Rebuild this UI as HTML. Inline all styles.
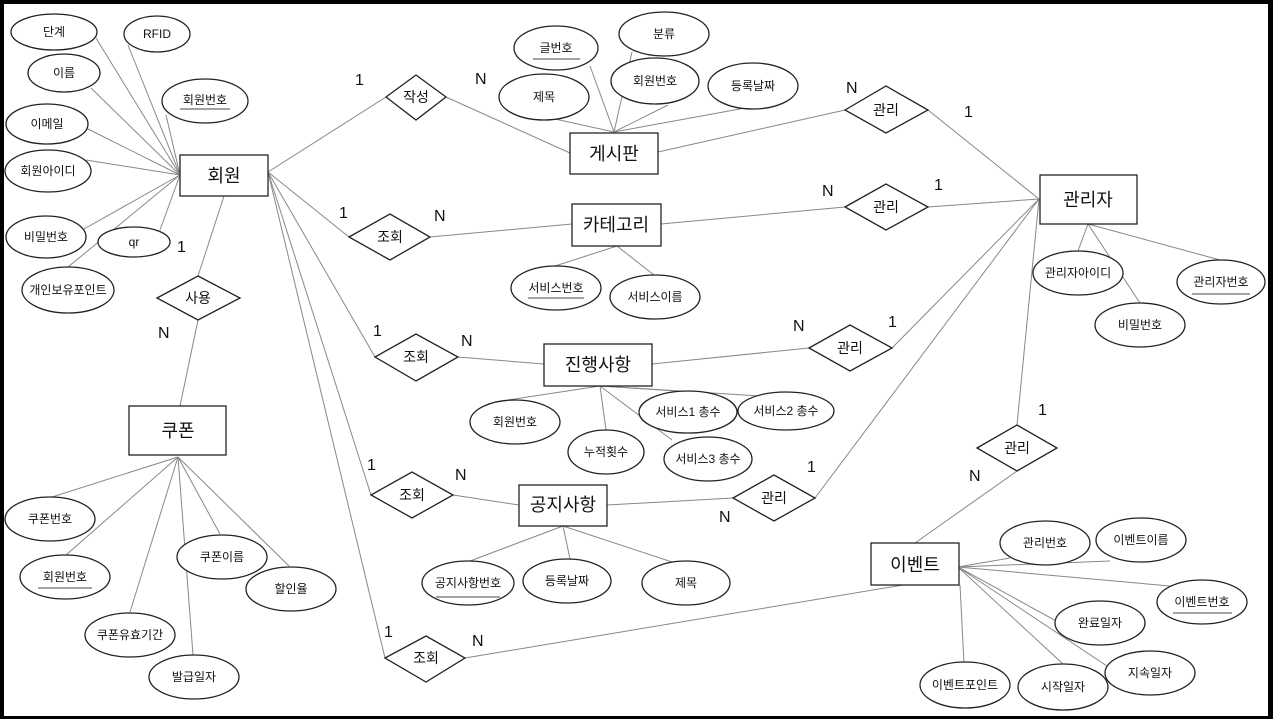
<!DOCTYPE html>
<html><head><meta charset="utf-8"><style>
html,body{margin:0;padding:0;background:#000;}
svg{display:block;}
text{font-family:"Liberation Sans","Noto Sans CJK KR","NanumGothic",sans-serif;fill:#111;}
</style></head><body>
<svg width="1273" height="719" viewBox="0 0 1273 719" xmlns="http://www.w3.org/2000/svg">
<rect x="0" y="0" width="1273" height="719" fill="#000"/>
<rect x="4" y="4" width="1264" height="712" fill="#fff"/>
<g stroke="#888" stroke-width="1" fill="none">
<!-- 회원 attrs -->
<line x1="180" y1="175" x2="96" y2="38"/>
<line x1="180" y1="175" x2="128" y2="45"/>
<line x1="180" y1="175" x2="91" y2="88"/>
<line x1="180" y1="175" x2="166" y2="115"/>
<line x1="180" y1="175" x2="86" y2="128"/>
<line x1="180" y1="175" x2="86" y2="160"/>
<line x1="180" y1="175" x2="84" y2="229"/>
<line x1="180" y1="175" x2="160" y2="230"/>
<line x1="180" y1="175" x2="68" y2="267"/>
<!-- 게시판 attrs -->
<line x1="614" y1="132" x2="590" y2="66"/>
<line x1="614" y1="132" x2="632" y2="52"/>
<line x1="614" y1="132" x2="555" y2="119"/>
<line x1="614" y1="132" x2="668" y2="105"/>
<line x1="614" y1="132" x2="745" y2="108"/>
<!-- 카테고리 attrs -->
<line x1="617" y1="246" x2="552" y2="267"/>
<line x1="617" y1="246" x2="654" y2="275"/>
<!-- 진행사항 attrs -->
<line x1="600" y1="386" x2="508" y2="400"/>
<line x1="600" y1="386" x2="606" y2="430"/>
<line x1="600" y1="386" x2="676" y2="391"/>
<line x1="600" y1="386" x2="760" y2="396"/>
<line x1="600" y1="386" x2="672" y2="440"/>
<!-- 공지사항 attrs -->
<line x1="563" y1="526" x2="470" y2="561"/>
<line x1="563" y1="526" x2="570" y2="559"/>
<line x1="563" y1="526" x2="672" y2="562"/>
<!-- 관리자 attrs -->
<line x1="1088" y1="224" x2="1078" y2="251"/>
<line x1="1088" y1="224" x2="1140" y2="303"/>
<line x1="1088" y1="224" x2="1220" y2="260"/>
<!-- 이벤트 attrs -->
<line x1="958" y1="567" x2="1010" y2="558"/>
<line x1="958" y1="567" x2="1110" y2="561"/>
<line x1="958" y1="567" x2="1170" y2="586"/>
<line x1="958" y1="567" x2="1058" y2="622"/>
<line x1="958" y1="567" x2="1110" y2="668"/>
<line x1="958" y1="567" x2="1063" y2="664"/>
<line x1="960" y1="585" x2="964" y2="664"/>
<!-- 쿠폰 attrs -->
<line x1="178" y1="457" x2="52" y2="497"/>
<line x1="178" y1="457" x2="66" y2="555"/>
<line x1="178" y1="457" x2="130" y2="612"/>
<line x1="178" y1="457" x2="193" y2="655"/>
<line x1="178" y1="457" x2="220" y2="534"/>
<line x1="178" y1="457" x2="289" y2="566"/>
<!-- relationships -->
<line x1="268" y1="172" x2="386" y2="97"/>
<line x1="446" y1="97" x2="570" y2="153"/>
<line x1="658" y1="152" x2="845" y2="110"/>
<line x1="928" y1="110" x2="1039" y2="199"/>
<line x1="268" y1="172" x2="349" y2="237"/>
<line x1="430" y1="237" x2="572" y2="224"/>
<line x1="661" y1="224" x2="845" y2="207"/>
<line x1="928" y1="207" x2="1039" y2="199"/>
<line x1="268" y1="172" x2="375" y2="357"/>
<line x1="458" y1="357" x2="544" y2="364"/>
<line x1="652" y1="364" x2="809" y2="348"/>
<line x1="892" y1="348" x2="1039" y2="199"/>
<line x1="268" y1="172" x2="371" y2="495"/>
<line x1="453" y1="495" x2="519" y2="505"/>
<line x1="607" y1="505" x2="733" y2="498"/>
<line x1="815" y1="498" x2="1039" y2="199"/>
<line x1="268" y1="172" x2="385" y2="658"/>
<line x1="465" y1="658" x2="903" y2="585"/>
<line x1="1039" y1="199" x2="1017" y2="425"/>
<line x1="1017" y1="471" x2="915" y2="543"/>
<line x1="224" y1="196" x2="198" y2="276"/>
<line x1="198" y1="320" x2="180" y2="406"/>
</g>
<g stroke="#222" stroke-width="1.3" fill="#fff">
<!-- entities -->
<rect x="180" y="155" width="88" height="41"/>
<rect x="570" y="133" width="88" height="41"/>
<rect x="572" y="204" width="89" height="42"/>
<rect x="544" y="344" width="108" height="42"/>
<rect x="519" y="485" width="88" height="41"/>
<rect x="1040" y="175" width="97" height="49"/>
<rect x="129" y="406" width="97" height="49"/>
<rect x="871" y="543" width="88" height="42"/>
<!-- diamonds -->
<polygon points="386,97 416,75 446,97 416,120"/>
<polygon points="845,110 886,86 928,110 886,133"/>
<polygon points="845,207 886,184 928,207 886,230"/>
<polygon points="349,237 390,214 430,237 390,260"/>
<polygon points="375,357 416,334 458,357 416,381"/>
<polygon points="809,348 850,325 892,348 850,371"/>
<polygon points="371,495 412,472 453,495 412,518"/>
<polygon points="733,498 774,475 815,498 774,521"/>
<polygon points="977,448 1017,425 1057,448 1017,471"/>
<polygon points="385,658 426,636 465,658 426,682"/>
<polygon points="157,298 198,276 240,298 198,320"/>
<!-- ellipses -->
<ellipse cx="54" cy="32" rx="43" ry="18"/>
<ellipse cx="157" cy="34" rx="33" ry="18"/>
<ellipse cx="64" cy="73" rx="36" ry="19"/>
<ellipse cx="205" cy="101" rx="43" ry="22"/>
<ellipse cx="47" cy="124" rx="41" ry="20"/>
<ellipse cx="48" cy="171" rx="43" ry="21"/>
<ellipse cx="46" cy="237" rx="40" ry="21"/>
<ellipse cx="134" cy="242" rx="36" ry="15"/>
<ellipse cx="68" cy="290" rx="46" ry="23"/>
<ellipse cx="556" cy="48" rx="42" ry="22"/>
<ellipse cx="664" cy="34" rx="45" ry="22"/>
<ellipse cx="544" cy="97" rx="45" ry="23"/>
<ellipse cx="655" cy="81" rx="44" ry="23"/>
<ellipse cx="753" cy="86" rx="45" ry="23"/>
<ellipse cx="556" cy="288" rx="45" ry="22"/>
<ellipse cx="655" cy="297" rx="45" ry="22"/>
<ellipse cx="515" cy="422" rx="45" ry="22"/>
<ellipse cx="606" cy="452" rx="38" ry="22"/>
<ellipse cx="688" cy="412" rx="49" ry="21"/>
<ellipse cx="786" cy="411" rx="48" ry="19"/>
<ellipse cx="708" cy="459" rx="44" ry="22"/>
<ellipse cx="468" cy="583" rx="46" ry="22"/>
<ellipse cx="567" cy="581" rx="44" ry="22"/>
<ellipse cx="686" cy="583" rx="44" ry="22"/>
<ellipse cx="1078" cy="273" rx="45" ry="22"/>
<ellipse cx="1221" cy="282" rx="44" ry="22"/>
<ellipse cx="1140" cy="325" rx="45" ry="22"/>
<ellipse cx="1045" cy="543" rx="45" ry="22"/>
<ellipse cx="1141" cy="540" rx="45" ry="22"/>
<ellipse cx="1202" cy="602" rx="45" ry="22"/>
<ellipse cx="1100" cy="623" rx="45" ry="22"/>
<ellipse cx="1150" cy="673" rx="45" ry="22"/>
<ellipse cx="1063" cy="687" rx="45" ry="23"/>
<ellipse cx="965" cy="685" rx="45" ry="23"/>
<ellipse cx="50" cy="519" rx="45" ry="22"/>
<ellipse cx="65" cy="577" rx="45" ry="22"/>
<ellipse cx="222" cy="557" rx="45" ry="22"/>
<ellipse cx="291" cy="589" rx="45" ry="22"/>
<ellipse cx="130" cy="635" rx="45" ry="22"/>
<ellipse cx="194" cy="677" rx="45" ry="22"/>
</g>
<g text-anchor="middle" font-size="18">
<text x="224" y="182">회원</text>
<text x="614" y="160">게시판</text>
<text x="616" y="231">카테고리</text>
<text x="598" y="371">진행사항</text>
<text x="563" y="511">공지사항</text>
<text x="1088" y="206">관리자</text>
<text x="178" y="437">쿠폰</text>
<text x="915" y="571">이벤트</text>
</g>
<g text-anchor="middle" font-size="14">
<text x="416" y="102">작성</text>
<text x="886" y="115">관리</text>
<text x="886" y="212">관리</text>
<text x="390" y="242">조회</text>
<text x="416" y="362">조회</text>
<text x="850" y="353">관리</text>
<text x="412" y="500">조회</text>
<text x="774" y="503">관리</text>
<text x="1017" y="453">관리</text>
<text x="426" y="663">조회</text>
<text x="198" y="303">사용</text>
</g>
<g text-anchor="middle" font-size="12">
<text x="54" y="36">단계</text>
<text x="157" y="38">RFID</text>
<text x="64" y="77">이름</text>
<text x="205" y="104">회원번호</text>
<text x="47" y="128">이메일</text>
<text x="48" y="175">회원아이디</text>
<text x="46" y="241">비밀번호</text>
<text x="134" y="246">qr</text>
<text x="68" y="294">개인보유포인트</text>
<text x="556" y="52">글번호</text>
<text x="664" y="38">분류</text>
<text x="544" y="101">제목</text>
<text x="655" y="85">회원번호</text>
<text x="753" y="90">등록날짜</text>
<text x="556" y="292">서비스번호</text>
<text x="655" y="301">서비스이름</text>
<text x="515" y="426">회원번호</text>
<text x="606" y="456">누적횟수</text>
<text x="688" y="416">서비스1 총수</text>
<text x="786" y="415">서비스2 총수</text>
<text x="708" y="463">서비스3 총수</text>
<text x="468" y="587">공지사항번호</text>
<text x="567" y="585">등록날짜</text>
<text x="686" y="587">제목</text>
<text x="1078" y="277">관리자아이디</text>
<text x="1221" y="286">관리자번호</text>
<text x="1140" y="329">비밀번호</text>
<text x="1045" y="547">관리번호</text>
<text x="1141" y="544">이벤트이름</text>
<text x="1202" y="606">이벤트번호</text>
<text x="1100" y="627">완료일자</text>
<text x="1150" y="677">지속일자</text>
<text x="1063" y="691">시작일자</text>
<text x="965" y="689">이벤트포인트</text>
<text x="50" y="523">쿠폰번호</text>
<text x="65" y="581">회원번호</text>
<text x="222" y="561">쿠폰이름</text>
<text x="291" y="593">할인율</text>
<text x="130" y="639">쿠폰유효기간</text>
<text x="194" y="681">발급일자</text>
</g>
<g stroke="#444" stroke-width="1">
<line x1="180" y1="109" x2="230" y2="109"/>
<line x1="533" y1="59" x2="580" y2="59"/>
<line x1="528" y1="298" x2="584" y2="298"/>
<line x1="436" y1="597" x2="500" y2="597"/>
<line x1="1192" y1="294" x2="1250" y2="294"/>
<line x1="1173" y1="613" x2="1232" y2="613"/>
<line x1="38" y1="588" x2="92" y2="588"/>
</g>
<g font-size="16">
<text x="355" y="85">1</text>
<text x="475" y="84">N</text>
<text x="846" y="93">N</text>
<text x="964" y="117">1</text>
<text x="339" y="218">1</text>
<text x="434" y="221">N</text>
<text x="822" y="196">N</text>
<text x="934" y="190">1</text>
<text x="373" y="336">1</text>
<text x="461" y="346">N</text>
<text x="793" y="331">N</text>
<text x="888" y="327">1</text>
<text x="367" y="470">1</text>
<text x="455" y="480">N</text>
<text x="807" y="472">1</text>
<text x="719" y="522">N</text>
<text x="1038" y="415">1</text>
<text x="969" y="481">N</text>
<text x="384" y="637">1</text>
<text x="472" y="646">N</text>
<text x="177" y="252">1</text>
<text x="158" y="338">N</text>
</g>
</svg>
</body></html>
